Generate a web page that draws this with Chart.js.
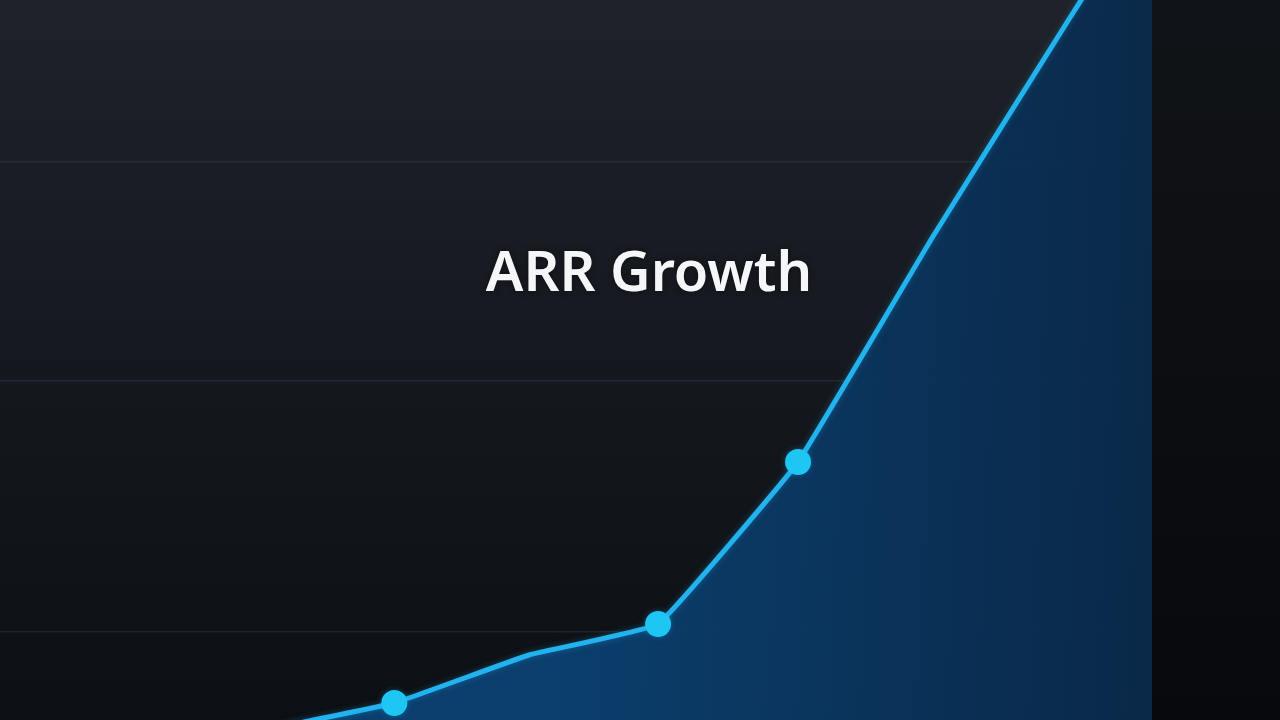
<!DOCTYPE html>
<html>
<head>
<meta charset="utf-8">
<title>ARR Growth</title>
<script src="https://cdn.jsdelivr.net/npm/chart.js@4.4.1/dist/chart.umd.min.js"></script>
<style>
  html, body { margin: 0; padding: 0; background: #0f1318; }
  #wrap { width: 1280px; height: 720px; position: relative; }
</style>
</head>
<body>
<div id="wrap"><canvas id="c" width="1280" height="720"></canvas></div>
<script>
// ---- data ----
const titleText = 'ARR Growth';
const months = [2, 3, 4, 4.96, 6, 7, 8, 9];                 // period index
const arrValues = [-1.1, 1.7, 6.5, 9.6, 25.8, 48.3, 69.8, 91]; // ARR ($M, estimated)
const markerRadius = [0, 13, 0, 13, 13, 0, 0, 0];
const gridValues = [8.8, 33.9, 55.8];
const xRange = [0.07, 8.63];
const yRange = [0, 72];

const points = months.map((m, i) => ({ x: m, y: arrValues[i] }));

const backgroundPlugin = {
  id: 'bgPanel',
  beforeDraw(chart) {
    const { ctx, width, height, chartArea } = chart;
    ctx.save();
    const g = ctx.createLinearGradient(0, 0, 0, height);
    g.addColorStop(0, '#1f2329');
    g.addColorStop(0.5, '#15191f');
    g.addColorStop(1, '#0c0f13');
    ctx.fillStyle = g;
    ctx.fillRect(0, 0, width, height);
    if (chartArea) {
      const g2 = ctx.createLinearGradient(0, 0, 0, height);
      g2.addColorStop(0, '#101317');
      g2.addColorStop(1, '#08090c');
      ctx.fillStyle = g2;
      ctx.fillRect(chartArea.right, 0, width - chartArea.right, height);
    }
    ctx.restore();
  }
};

const glowPlugin = {
  id: 'lineGlow',
  beforeDatasetDraw(chart) {
    chart.ctx.save();
    chart.ctx.shadowColor = 'rgba(30,170,240,0.35)';
    chart.ctx.shadowBlur = 6;
  },
  afterDatasetDraw(chart) {
    chart.ctx.restore();
  }
};

const centerTitlePlugin = {
  id: 'centerTitle',
  afterDraw(chart, args, opts) {
    const { ctx } = chart;
    ctx.save();
    ctx.font = `${opts.weight} ${opts.size}px ${opts.family}`;
    ctx.fillStyle = opts.color;
    ctx.textAlign = 'center';
    ctx.textBaseline = 'alphabetic';
    ctx.shadowColor = 'rgba(0,0,0,0.5)';
    ctx.shadowBlur = 6;
    ctx.fillText(opts.text, opts.x, opts.y);
    ctx.restore();
  }
};

new Chart(document.getElementById('c'), {
  type: 'line',
  data: {
    datasets: [{
      label: titleText,
      data: points,
      borderColor: '#22b2ee',
      borderWidth: 5,
      tension: 0.08,
      pointRadius: markerRadius,
      pointHoverRadius: markerRadius,
      pointBackgroundColor: '#1ec6f3',
      pointBorderColor: '#1ec6f3',
      pointBorderWidth: 0,
      fill: 'start',
      backgroundColor(c) {
        const { chart } = c;
        const area = chart.chartArea;
        if (!area) return 'rgba(10,60,105,0.9)';
        const g = chart.ctx.createLinearGradient(area.left + 550, 0, area.right, 0);
        g.addColorStop(0, 'rgba(11,66,116,0.93)');
        g.addColorStop(0.5, 'rgba(10,54,96,0.93)');
        g.addColorStop(1, 'rgba(9,42,76,0.93)');
        return g;
      }
    }]
  },
  options: {
    responsive: false,
    animation: false,
    devicePixelRatio: 1,
    layout: { padding: { left: 0, right: 128, top: 0, bottom: 0 } },
    plugins: {
      legend: { display: false },
      tooltip: { enabled: false },
      title: { display: false },
      centerTitle: {
        text: titleText,
        x: 649, y: 291,
        size: 56, weight: '600',
        family: '"Noto Sans", "Open Sans", sans-serif',
        color: '#f4f6f8'
      }
    },
    scales: {
      x: {
        type: 'linear',
        min: xRange[0], max: xRange[1],
        display: false
      },
      y: {
        type: 'linear',
        min: yRange[0], max: yRange[1],
        afterBuildTicks(scale) {
          scale.ticks = gridValues.map(v => ({ value: v }));
        },
        ticks: { display: false },
        border: { display: false },
        grid: { color: 'rgba(60,72,86,0.35)', lineWidth: 1.5, drawTicks: false }
      }
    }
  },
  plugins: [backgroundPlugin, glowPlugin, centerTitlePlugin]
});
</script>
</body>
</html>
